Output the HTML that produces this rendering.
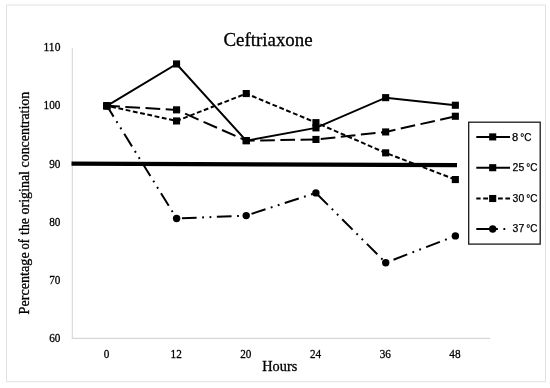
<!DOCTYPE html>
<html><head><meta charset="utf-8"><title>Ceftriaxone</title>
<style>
html,body{margin:0;padding:0;background:#fff;}
body{width:550px;height:388px;overflow:hidden;}
svg{display:block;}
text{font-family:"Liberation Serif",serif;fill:#000;stroke:#000;stroke-width:0.3px;}
.lg text{font-family:"Liberation Sans",sans-serif;font-size:10.4px;stroke-width:0.25px;}
</style></head><body>
<svg width="550" height="388" viewBox="0 0 550 388">
<rect x="0" y="0" width="550" height="388" fill="#fff"/>
<rect x="6.5" y="5.0" width="539" height="376.7" fill="#fff" stroke="#e2e2e2" stroke-width="1"/>
<line x1="72.3" y1="47.9" x2="72.3" y2="338.9" stroke="#d6d6d6" stroke-width="1.1"/>
<line x1="71.8" y1="338.4" x2="490.2" y2="338.4" stroke="#d6d6d6" stroke-width="1.1"/>

<text x="223.4" y="46.3" font-size="19.5" stroke-width="0.35" textLength="89.3" lengthAdjust="spacingAndGlyphs">Ceftriaxone</text>
<text x="49.16"  y="341.8" font-size="13.5" textLength="11.24" lengthAdjust="spacingAndGlyphs">60</text>
<text x="49.16"  y="283.7" font-size="13.5" textLength="11.24" lengthAdjust="spacingAndGlyphs">70</text>
<text x="49.16"  y="225.6" font-size="13.5" textLength="11.24" lengthAdjust="spacingAndGlyphs">80</text>
<text x="49.16"  y="167.5" font-size="13.5" textLength="11.24" lengthAdjust="spacingAndGlyphs">90</text>
<text x="43.54"  y="109.4" font-size="13.5" textLength="16.86" lengthAdjust="spacingAndGlyphs">100</text>
<text x="43.54"  y="51.3" font-size="13.5" textLength="16.86" lengthAdjust="spacingAndGlyphs">110</text>
<text x="103.64" y="358.3" font-size="13.5" textLength="5.62" lengthAdjust="spacingAndGlyphs">0</text>
<text x="170.53" y="358.3" font-size="13.5" textLength="11.24" lengthAdjust="spacingAndGlyphs">12</text>
<text x="240.23" y="358.3" font-size="13.5" textLength="11.24" lengthAdjust="spacingAndGlyphs">20</text>
<text x="309.93" y="358.3" font-size="13.5" textLength="11.24" lengthAdjust="spacingAndGlyphs">24</text>
<text x="379.63" y="358.3" font-size="13.5" textLength="11.24" lengthAdjust="spacingAndGlyphs">36</text>
<text x="449.33" y="358.3" font-size="13.5" textLength="11.24" lengthAdjust="spacingAndGlyphs">48</text>
<text x="262.3" y="370.6" font-size="13.7" textLength="34.9" lengthAdjust="spacingAndGlyphs">Hours</text>
<text transform="rotate(-90)" font-size="13.7"><tspan x="-314.50" y="29.3" textLength="62.20" lengthAdjust="spacingAndGlyphs">Percentage</tspan> <tspan x="-249.40" y="29.3" textLength="10.40" lengthAdjust="spacingAndGlyphs">of</tspan> <tspan x="-234.90" y="29.3" textLength="16.90" lengthAdjust="spacingAndGlyphs">the</tspan> <tspan x="-214.50" y="29.3" textLength="43.50" lengthAdjust="spacingAndGlyphs">original</tspan> <tspan x="-167.50" y="29.3" textLength="75.80" lengthAdjust="spacingAndGlyphs">concentration</tspan></text>
<line x1="71.5" y1="163.7" x2="457" y2="165.2" stroke="#000" stroke-width="4.2"/>
<polyline points="106.9,105.8 176.6,64.0 246.2,140.7 315.9,127.9 385.7,97.7 455.4,105.2" fill="none" stroke="#000" stroke-width="2.0"/>
<rect x="103.3" y="102.3" width="7.1" height="7.1" fill="#000"/>
<rect x="173.0" y="60.4" width="7.1" height="7.1" fill="#000"/>
<rect x="242.7" y="137.1" width="7.1" height="7.1" fill="#000"/>
<rect x="312.4" y="124.3" width="7.1" height="7.1" fill="#000"/>
<rect x="382.1" y="94.1" width="7.1" height="7.1" fill="#000"/>
<rect x="451.8" y="101.7" width="7.1" height="7.1" fill="#000"/>
<polyline points="106.9,105.8 176.6,109.9 246.2,140.7 315.9,139.5 385.7,131.9 455.4,116.3" fill="none" stroke="#000" stroke-width="2.0" stroke-dasharray="14.7 5.5" stroke-dashoffset="1.7"/>
<rect x="103.3" y="102.3" width="7.1" height="7.1" fill="#000"/>
<rect x="173.0" y="106.3" width="7.1" height="7.1" fill="#000"/>
<rect x="242.7" y="137.1" width="7.1" height="7.1" fill="#000"/>
<rect x="312.4" y="135.9" width="7.1" height="7.1" fill="#000"/>
<rect x="382.1" y="128.4" width="7.1" height="7.1" fill="#000"/>
<rect x="451.8" y="112.7" width="7.1" height="7.1" fill="#000"/>
<polyline points="106.9,105.8 176.6,120.9 246.2,93.6 315.9,122.6 385.7,152.9 455.4,179.6" fill="none" stroke="#000" stroke-width="2.0" stroke-dasharray="4.8 2.6" stroke-dashoffset="3.0"/>
<rect x="103.3" y="102.3" width="7.1" height="7.1" fill="#000"/>
<rect x="173.0" y="117.4" width="7.1" height="7.1" fill="#000"/>
<rect x="242.7" y="90.0" width="7.1" height="7.1" fill="#000"/>
<rect x="312.4" y="119.1" width="7.1" height="7.1" fill="#000"/>
<rect x="382.1" y="149.3" width="7.1" height="7.1" fill="#000"/>
<rect x="451.8" y="176.0" width="7.1" height="7.1" fill="#000"/>
<polyline points="106.9,105.8 176.6,218.5 246.2,215.6 315.9,192.9 385.7,262.7 455.4,235.9" fill="none" stroke="#000" stroke-width="2.0" stroke-dasharray="14.72 5.52 1.84 5.52 1.84 5.52" stroke-dashoffset="2.0"/>
<circle cx="106.9" cy="105.8" r="3.7" fill="#000"/>
<circle cx="176.6" cy="218.5" r="3.7" fill="#000"/>
<circle cx="246.2" cy="215.6" r="3.7" fill="#000"/>
<circle cx="315.9" cy="192.9" r="3.7" fill="#000"/>
<circle cx="385.7" cy="262.7" r="3.7" fill="#000"/>
<circle cx="455.4" cy="235.9" r="3.7" fill="#000"/>
<g class="lg">
<rect x="468.7" y="122.2" width="71.5" height="121.9" fill="#fff" stroke="#1a1a1a" stroke-width="1.3"/>
<line x1="476.3" y1="136.9" x2="510" y2="136.9" stroke="#000" stroke-width="2.0"/>
<rect x="489.15" y="133.35" width="7.1" height="7.1" fill="#000"/>
<text y="141.0"><tspan x="512.0" textLength="6.2" lengthAdjust="spacingAndGlyphs">8</tspan> <tspan x="520.3" textLength="11.2" lengthAdjust="spacingAndGlyphs">°C</tspan></text>
<line x1="476.3" y1="167.7" x2="510" y2="167.7" stroke="#000" stroke-width="2.0" stroke-dasharray="14.7 5.5" stroke-dashoffset="0.5"/>
<rect x="489.15" y="164.15" width="7.1" height="7.1" fill="#000"/>
<text y="171.1"><tspan x="512.6" textLength="11.6" lengthAdjust="spacingAndGlyphs">25</tspan> <tspan x="526.15" textLength="11.2" lengthAdjust="spacingAndGlyphs">°C</tspan></text>
<line x1="476.3" y1="198.5" x2="510" y2="198.5" stroke="#000" stroke-width="2.0" stroke-dasharray="4.8 2.6" stroke-dashoffset="0.5"/>
<rect x="489.15" y="194.95" width="7.1" height="7.1" fill="#000"/>
<text y="201.9"><tspan x="512.6" textLength="11.6" lengthAdjust="spacingAndGlyphs">30</tspan> <tspan x="526.15" textLength="11.2" lengthAdjust="spacingAndGlyphs">°C</tspan></text>
<line x1="476.3" y1="229.0" x2="510" y2="229.0" stroke="#000" stroke-width="2.0" stroke-dasharray="14.72 5.52 1.84 5.52 1.84 5.52" stroke-dashoffset="0.5"/>
<circle cx="492.7" cy="229.0" r="3.7" fill="#000"/>
<text y="232.4"><tspan x="512.6" textLength="11.6" lengthAdjust="spacingAndGlyphs">37</tspan> <tspan x="526.15" textLength="11.2" lengthAdjust="spacingAndGlyphs">°C</tspan></text>
</g>
</svg></body></html>
